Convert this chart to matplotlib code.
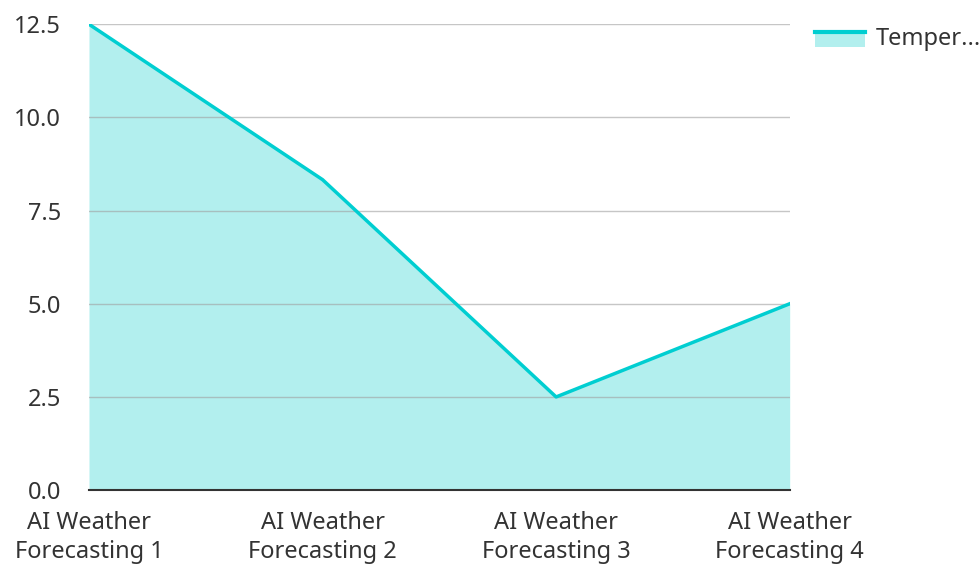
import matplotlib
matplotlib.use("Agg")
import matplotlib.pyplot as plt
from matplotlib.lines import Line2D
from matplotlib.patches import Patch, Rectangle
from matplotlib.legend_handler import HandlerBase

categories = ["AI Weather\nForecasting 1", "AI Weather\nForecasting 2",
              "AI Weather\nForecasting 3", "AI Weather\nForecasting 4"]
values = [12.5, 8.33, 2.5, 5.0]
yticks = [0.0, 2.5, 5.0, 7.5, 10.0, 12.5]
series_name = "Temper..."

plt.rcParams['font.family'] = ['Noto Sans', 'DejaVu Sans']
line_color = "#00CED1"
fill_color = "#B2EFEE"

fig = plt.figure(figsize=(9.8, 5.64), dpi=100)
ax = fig.add_axes([0.0908, 0.131, 0.715, 0.826])
x = list(range(len(categories)))
ax.fill_between(x, values, 0, color=fill_color, zorder=1, linewidth=0)
ax.plot(x, values, color=line_color, linewidth=2.5, zorder=3)
ax.set_xlim(0, len(categories) - 1)
ax.set_ylim(0, 12.5)
ax.set_yticks(yticks)
ax.set_yticklabels([f"{v:.1f}" for v in yticks])
ax.set_xticks(x)
ax.set_xticklabels(categories, linespacing=1.3)
ax.yaxis.grid(True, color="#a0a0a0", alpha=0.6, linewidth=1, zorder=2)
ax.set_axisbelow(False)
for s in ["left", "right", "top"]:
    ax.spines[s].set_visible(False)
ax.spines["bottom"].set_color("#333333")
ax.spines["bottom"].set_linewidth(1.5)
ax.spines["bottom"].set_zorder(4)
ax.tick_params(axis="both", length=0, labelsize=17, colors="#333333")
ax.tick_params(axis="y", pad=20)
ax.tick_params(axis="x", pad=15)


class AreaHandler(HandlerBase):
    def create_artists(self, legend, orig_handle, xdescent, ydescent,
                       width, height, fontsize, trans):
        top = height * 0.75
        bottom = -ydescent - height * 0.1
        rect = Rectangle((-xdescent, bottom), width, top - bottom,
                         facecolor=fill_color, edgecolor="none",
                         transform=trans)
        line = Line2D([-xdescent, -xdescent + width], [top, top],
                      color=line_color, linewidth=3, transform=trans)
        return [rect, line]


handle = Patch(facecolor=fill_color)
leg = fig.legend([handle], [series_name], loc="upper left",
                 bbox_to_anchor=(0.810, 0.99), frameon=False, fontsize=17,
                 handler_map={Patch: AreaHandler()},
                 handlelength=2.1, handletextpad=0.45, labelcolor="#333333")
fig.savefig("out.png", dpi=100)
